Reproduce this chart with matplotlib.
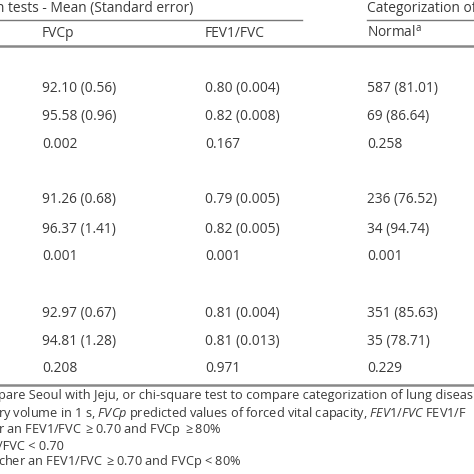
import matplotlib
matplotlib.use('Agg')
import matplotlib.pyplot as plt

fvcp = ["92.10 (0.56)", "95.58 (0.96)", "0.002",
        "91.26 (0.68)", "96.37 (1.41)", "0.001",
        "92.97 (0.67)", "94.81 (1.28)", "0.208"]
fev_fvc = ["0.80 (0.004)", "0.82 (0.008)", "0.167",
           "0.79 (0.005)", "0.82 (0.005)", "0.001",
           "0.81 (0.004)", "0.81 (0.013)", "0.971"]
normal = ["587 (81.01)", "69 (86.64)", "0.258",
          "236 (76.52)", "34 (94.74)", "0.001",
          "351 (85.63)", "35 (78.71)", "0.229"]
row_y = [88, 116, 144, 200, 229, 256, 313, 341, 369]
footnotes = [
    "pare Seoul with Jeju, or chi-square test to compare categorization of lung diseas",
    r"ry volume in 1 s, $\it{FVCp}$ predicted values of forced vital capacity, $\it{FEV1/FVC}$ FEV1/F",
    r"r an FEV1/FVC $\geq$0.70 and FVCp $\geq$80%",
    "/FVC < 0.70",
    r"cher an FEV1/FVC $\geq$0.70 and FVCp < 80%",
]
foot_y = [396, 413, 430, 446, 462]

plt.rcParams['font.family'] = ['Open Sans', 'DejaVu Sans']
plt.rcParams['mathtext.fontset'] = 'custom'
plt.rcParams['mathtext.it'] = 'Open Sans:italic'
plt.rcParams['mathtext.rm'] = 'Open Sans'

fig = plt.figure(figsize=(4.74, 4.74), dpi=100)
ax = fig.add_axes([0, 0, 1, 1])
ax.set_xlim(0, 474)
ax.set_ylim(474, 0)
ax.axis('off')

col = '#3a3a3a'
fs = 9.9
ax.text(-4, 8, "n tests - Mean (Standard error)", fontsize=fs, color=col, va='center')
ax.text(367, 8, "Categorization of lung disease", fontsize=fs, color=col, va='center')
ax.plot([0, 302], [19.5, 19.5], color='#777777', lw=1)
ax.plot([367, 474], [19.5, 19.5], color='#777777', lw=1)
ax.text(42, 33, "FVCp", fontsize=fs, color=col, va='center')
ax.text(205, 33, "FEV1/FVC", fontsize=fs, color=col, va='center')
ax.text(367, 33, r"Normal$^{\rm a}$", fontsize=fs, color=col, va='center')
ax.plot([0, 474], [46, 46], color='#888888', lw=1.8)

for y, a, b, c in zip(row_y, fvcp, fev_fvc, normal):
    ax.text(42, y, a, fontsize=fs, color=col, va='center')
    ax.text(205, y, b, fontsize=fs, color=col, va='center')
    ax.text(367, y, c, fontsize=fs, color=col, va='center')

ax.plot([0, 474], [385, 385], color='#888888', lw=1.8)
for y, t in zip(foot_y, footnotes):
    ax.text(-2, y, t, fontsize=9.2, color=col, va='center')

fig.savefig('out.png', dpi=100)
